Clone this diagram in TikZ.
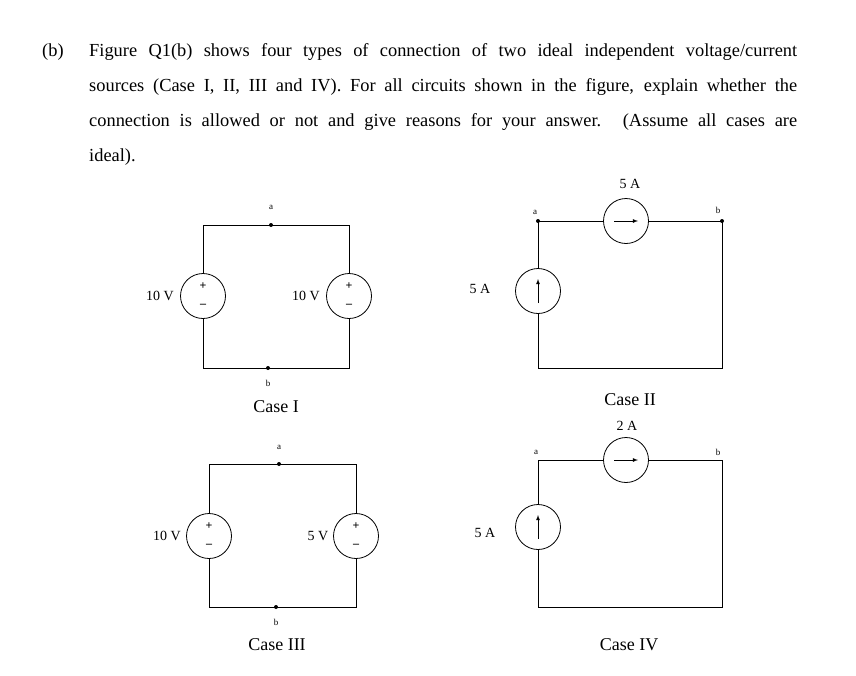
\documentclass[tikz,border=0pt]{standalone}
\usepackage{fontspec}
\setmainfont{Liberation Serif}
\usetikzlibrary{arrows}

\tikzset{
  src/.style={draw,circle,minimum size=45pt,inner sep=0pt,line width=0.8pt},
  wire/.style={line width=0.8pt},
  term/.style={circle,fill,inner sep=0pt,minimum size=4pt},
  lbl/.style={font=\fontsize{14}{14}\selectfont},
  tiny/.style={font=\fontsize{9}{9}\selectfont},
  case/.style={font=\fontsize{18}{18}\selectfont}
}

\begin{document}
\begin{tikzpicture}[x=1pt,y=-1pt]
\useasboundingbox (0,0) rectangle (856,675);

% question text
\node[anchor=north west,inner sep=0pt,text width=708pt,align=justify,
  font=\fontsize{18.4}{35}\selectfont] (qtext) at (89,43)
  {Figure Q1(b) shows four types of connection of two ideal independent voltage/current\linebreak
   sources (Case I, II, III and IV). For all circuits shown in the figure, explain whether the\linebreak
   connection is allowed or not and give reasons for your answer. (Assume all cases are\linebreak
   ideal).};
\node[anchor=base west,font=\fontsize{18.4}{18}\selectfont,inner sep=0pt] (qb) at (42,56) {(b)};

% Case I
\coordinate (c1tl) at (203,225); \coordinate (c1tr) at (349,225);
\coordinate (c1bl) at (203,368); \coordinate (c1br) at (349,368);
\node[src] (v1a) at (203,296) {};
\node[src] (v1b) at (349,296) {};
\draw[wire] (v1a.north) -- (c1tl) -- (c1tr) -- (v1b.north);
\draw[wire] (v1a.south) -- (c1bl) -- (c1br) -- (v1b.south);
\node[term] (a1) at (271,225) {}; \node[tiny] at (271,207) {a};
\node[term] (b1) at (268,368) {}; \node[tiny] at (268,383) {b};
\node[lbl] at (160,296) {10 V};
\node[lbl] at (306,296) {10 V};
\node[case] at (276,407) {Case I};

% Case II
\coordinate (c2tl) at (538,221); \coordinate (c2tr) at (722,221);
\coordinate (c2bl) at (538,368); \coordinate (c2br) at (722,368);
\node[src] (i2a) at (538,291) {};
\node[src] (i2b) at (626,221) {};
\draw[wire] (i2a.north) -- (c2tl) -- (i2b.west);
\draw[wire] (i2b.east) -- (c2tr) -- (c2br) -- (c2bl) -- (i2a.south);
\draw[wire,-latex] ([yshift=-12pt]i2a.center) -- ([yshift=12pt]i2a.center);
\draw[wire,-latex] ([xshift=-12pt]i2b.center) -- ([xshift=12pt]i2b.center);
\node[term] (a2) at (c2tl) {}; \node[tiny] at (535,212) {a};
\node[term] (b2) at (c2tr) {}; \node[tiny] at (718,210) {b};
\node[lbl] at (480,289) {5 A};
\node[lbl] at (630,184) {5 A};
\node[case] at (630,400) {Case II};

% Case III
\coordinate (c3tl) at (209,464); \coordinate (c3tr) at (356,464);
\coordinate (c3bl) at (209,607); \coordinate (c3br) at (356,607);
\node[src] (v3a) at (209,536) {};
\node[src] (v3b) at (356,536) {};
\draw[wire] (v3a.north) -- (c3tl) -- (c3tr) -- (v3b.north);
\draw[wire] (v3a.south) -- (c3bl) -- (c3br) -- (v3b.south);
\node[term] (a3) at (279,464) {}; \node[tiny] at (279,447) {a};
\node[term] (b3) at (276,607) {}; \node[tiny] at (276,622) {b};
\node[lbl] at (167,536) {10 V};
\node[lbl] at (318,536) {5 V};
\node[case] at (277,645) {Case III};

% Case IV
\coordinate (c4tl) at (538,460); \coordinate (c4tr) at (722,460);
\coordinate (c4bl) at (538,607); \coordinate (c4br) at (722,607);
\node[src] (i4a) at (538,527) {};
\node[src] (i4b) at (626,460) {};
\draw[wire] (i4a.north) -- (c4tl) -- (i4b.west);
\draw[wire] (i4b.east) -- (c4tr) -- (c4br) -- (c4bl) -- (i4a.south);
\draw[wire,-latex] ([yshift=-12pt]i4a.center) -- ([yshift=12pt]i4a.center);
\draw[wire,-latex] ([xshift=-12pt]i4b.center) -- ([xshift=12pt]i4b.center);
\node[tiny] at (536,452) {a};
\node[tiny] at (718,452) {b};
\node[lbl] at (485,533) {5 A};
\node[lbl] at (627,426) {2 A};
\node[case] at (629,645) {Case IV};

% polarity marks
\foreach \s in {v1a,v1b,v3a,v3b}{
  \node[font=\bfseries\fontsize{12}{12}\selectfont] at ([yshift=10pt]\s.center) {+};
  \node[font=\bfseries\fontsize{12}{12}\selectfont] at ([yshift=-10pt]\s.center) {--};
}
\end{tikzpicture}
\end{document}
